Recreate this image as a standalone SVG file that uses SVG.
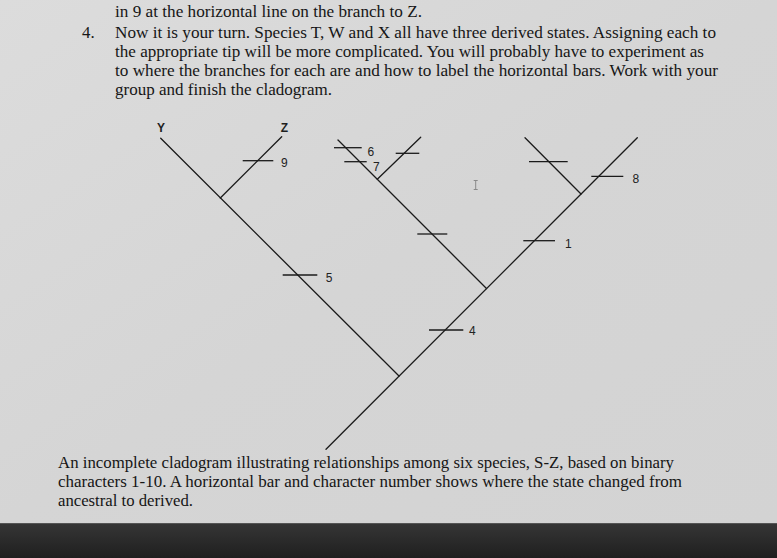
<svg xmlns="http://www.w3.org/2000/svg" width="777" height="558" viewBox="0 0 777 558">
<defs>
<linearGradient id="bg" x1="0" y1="0" x2="1" y2="1">
<stop offset="0" stop-color="#dcdcdc"/>
<stop offset="0.5" stop-color="#d5d5d5"/>
<stop offset="1" stop-color="#d3d3d3"/>
</linearGradient>
<linearGradient id="band" x1="0" y1="0" x2="0" y2="1">
<stop offset="0" stop-color="#363636"/>
<stop offset="1" stop-color="#1f1f1f"/>
</linearGradient>
<style>
.para{font-family:"Liberation Serif","Times New Roman",serif;font-size:16.8px;fill:#161616}
.lbl{font-family:"Liberation Sans",Arial,sans-serif;font-size:12px;fill:#222}
.tip{font-family:"Liberation Sans",Arial,sans-serif;font-size:12px;font-weight:bold;fill:#1e1e1e;text-anchor:middle}
.br{stroke:#1a1a1a;stroke-width:1.3;fill:none;stroke-linecap:round}
.tick{stroke:#1a1a1a;stroke-width:1.3;fill:none}
</style>
</defs>
<rect x="0" y="0" width="777" height="523" fill="url(#bg)"/>
<rect x="0" y="523" width="777" height="35" fill="url(#band)"/>
<line x1="0" y1="523.5" x2="777" y2="523.5" stroke="#555" stroke-width="1"/>

<g id="instructions">
<text class="para" x="115" y="17" textLength="307" lengthAdjust="spacingAndGlyphs">in 9 at the horizontal line on the branch to Z.</text>
<text class="para" x="82" y="38">4.</text>
<text class="para" x="115" y="38" textLength="601" lengthAdjust="spacingAndGlyphs">Now it is your turn. Species T, W and X all have three derived states.  Assigning each to</text>
<text class="para" x="115" y="57" textLength="589" lengthAdjust="spacingAndGlyphs">the appropriate tip will be more complicated. You will probably have to experiment as</text>
<text class="para" x="115" y="76" textLength="603" lengthAdjust="spacingAndGlyphs">to where the branches for each are and how to label the horizontal bars.  Work with your</text>
<text class="para" x="115" y="95" textLength="217" lengthAdjust="spacingAndGlyphs">group and finish the cladogram.</text>
</g>

<g id="connectors">
<line class="br" x1="326" y1="449.3" x2="637.3" y2="137.7"/>
<line class="br" x1="160.7" y1="138.3" x2="399" y2="376"/>
<line class="br" x1="281.7" y1="136.7" x2="220.3" y2="198"/>
<line class="br" x1="338" y1="140" x2="486.5" y2="288.5"/>
<line class="br" x1="420.7" y1="137.3" x2="377.3" y2="179.3"/>
<line class="br" x1="525" y1="137.7" x2="581" y2="194"/>
</g>

<g id="tip-Y"><text class="tip" x="161" y="132">Y</text></g>
<g id="tip-Z"><text class="tip" x="284.5" y="132">Z</text></g>

<g id="bar-9"><line class="tick" x1="242.7" y1="160.7" x2="273.3" y2="160.7"/><text class="lbl" x="281" y="167.3">9</text></g>
<g id="bar-5"><line class="tick" x1="282.7" y1="275" x2="317.3" y2="275"/><text class="lbl" x="325.7" y="282">5</text></g>
<g id="bar-6"><line class="tick" x1="334" y1="147.7" x2="361.7" y2="147.7"/><text class="lbl" x="367.5" y="156">6</text></g>
<g id="bar-7"><line class="tick" x1="344.3" y1="161.7" x2="366.7" y2="161.7"/><text class="lbl" x="373" y="170.7">7</text></g>
<g id="bar-a"><line class="tick" x1="395.7" y1="153.3" x2="419.3" y2="153.3"/></g>
<g id="bar-b"><line class="tick" x1="417.3" y1="234" x2="447.3" y2="234"/></g>
<g id="bar-c"><line class="tick" x1="529" y1="161.7" x2="567.7" y2="161.7"/></g>
<g id="bar-8"><line class="tick" x1="591.3" y1="176.3" x2="623.3" y2="176.3"/><text class="lbl" x="632.5" y="183">8</text></g>
<g id="bar-1"><line class="tick" x1="523.3" y1="240.7" x2="555" y2="240.7"/><text class="lbl" x="565" y="247.7">1</text></g>
<g id="bar-4"><line class="tick" x1="429" y1="330" x2="463.3" y2="330"/><text class="lbl" x="469" y="335.3">4</text></g>

<g id="cursor" stroke="#8a8a8a" stroke-width="1" fill="none">
<path d="M473.7 180.5h4M475.7 180.5v9M473.7 189.5h4"/>
</g>

<g id="caption">
<text class="para" x="58" y="467.5" textLength="616" lengthAdjust="spacingAndGlyphs">An incomplete cladogram illustrating relationships among six species, S-Z, based on binary</text>
<text class="para" x="58" y="486.7" textLength="624" lengthAdjust="spacingAndGlyphs">characters 1-10.  A horizontal bar and character number shows where the state changed from</text>
<text class="para" x="58" y="505.7" textLength="135" lengthAdjust="spacingAndGlyphs">ancestral to derived.</text>
</g>
</svg>
